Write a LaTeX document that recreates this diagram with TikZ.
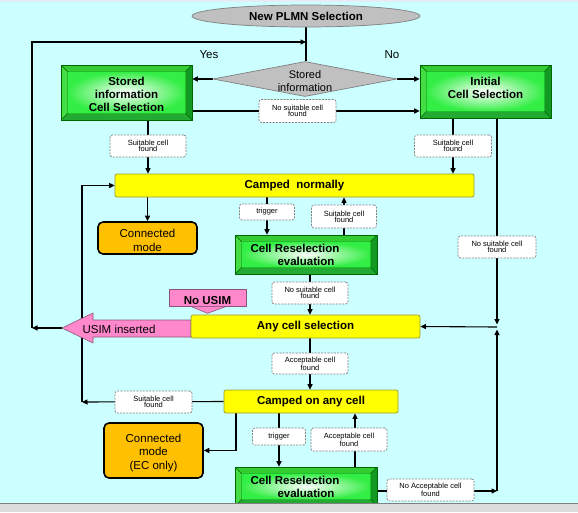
\documentclass[tikz,border=0pt]{standalone}
\usepackage{fontspec}
\setmainfont{Liberation Sans}
\usetikzlibrary{shapes.geometric,arrows.meta,calc}
\definecolor{bgc}{HTML}{CCFFFF}
\definecolor{topC}{HTML}{E6ECF6}
\definecolor{gTop}{HTML}{33CC33}
\definecolor{gLeft}{HTML}{44DD44}
\definecolor{gRight}{HTML}{119922}
\definecolor{gBot}{HTML}{22AA33}
\definecolor{gFace}{HTML}{33EE44}
\definecolor{gDark}{HTML}{006600}
\definecolor{yelC}{HTML}{FFFF00}
\definecolor{yelD}{HTML}{999933}
\definecolor{oraC}{HTML}{FFC000}
\definecolor{pinkC}{HTML}{FF88CC}
\definecolor{pinkD}{HTML}{885577}
\definecolor{grayC}{HTML}{C0C0C0}
\definecolor{grayD}{HTML}{808080}
\definecolor{lblD}{HTML}{808080}
\definecolor{bandC}{HTML}{DCDCDC}
\newcommand{\dropt}[2]{\raisebox{-#1}[\height][\depth]{\begin{tabular}{@{}c@{}}#2\end{tabular}}}
\pgfdeclarelayer{bgl}
\pgfdeclarelayer{lines}
\pgfsetlayers{bgl,lines,main}
\begin{document}
\begin{tikzpicture}[x=1pt,y=-1pt,
  ln/.style={line width=1.1pt},
  arr/.style={line width=1.1pt,-{Triangle[length=5.5pt,width=5pt]}},
  lbl/.style={draw=lblD, dash pattern=on 2pt off 1.2pt, fill=white, rounded corners=2.5pt,
    font=\fontsize{7.5}{6}\selectfont, align=center, inner sep=0pt, line width=0.7pt},
  ybox/.style={draw=yelD, line width=0.7pt, fill=yelC, rounded corners=2pt, inner sep=0pt,
    font=\bfseries\fontsize{11.5}{13}\selectfont},
  obox/.style={draw=black, line width=1.6pt, fill=oraC, rounded corners=5pt, inner sep=0pt,
    align=center, font=\fontsize{11.5}{13.5}\selectfont},
  txt/.style={inner sep=0pt, font=\fontsize{11.5}{13}\selectfont, align=center},
  gbox/.style={draw=gDark, line width=0.6pt, fill=gFace, align=center, inner sep=0pt,
    font=\bfseries\fontsize{11.5}{13}\selectfont,
    path picture={
      \path (path picture bounding box.north west) coordinate (pa)
            (path picture bounding box.north east) coordinate (pb)
            (path picture bounding box.south east) coordinate (pc)
            (path picture bounding box.south west) coordinate (pd);
      \path ([shift={(6.5pt,-6.5pt)}]pa) coordinate (qa)
            ([shift={(-6.5pt,-6.5pt)}]pb) coordinate (qb)
            ([shift={(-6.5pt,6.5pt)}]pc) coordinate (qc)
            ([shift={(6.5pt,6.5pt)}]pd) coordinate (qd);
      \fill[gTop] (pa)--(pb)--(qb)--(qa)--cycle;
      \fill[gRight] (pb)--(pc)--(qc)--(qb)--cycle;
      \fill[gBot] (pc)--(pd)--(qd)--(qc)--cycle;
      \fill[gLeft] (pd)--(pa)--(qa)--(qd)--cycle;
      \shade[inner color=white, outer color=gFace] (qa) rectangle (qc);
      \draw[gDark, line width=0.4pt] (pa)--(qa) (pb)--(qb) (pc)--(qc) (pd)--(qd) (qa) rectangle (qc);
    }},
]
\begin{pgfonlayer}{bgl}
  \fill[bgc] (0,0) rectangle (578,512);
  \fill[topC] (0,0) rectangle (578,2);
\end{pgfonlayer}
\useasboundingbox (0,0) rectangle (578,512);

% main nodes
\node[ellipse, draw=grayD, fill=grayC, line width=0.7pt, minimum width=228pt, minimum height=22pt,
  inner sep=0pt, font=\bfseries\fontsize{11.5}{13}\selectfont] (plmn) at (306,16) {New PLMN Selection};
\node[diamond, draw=grayD, fill=grayC, line width=0.7pt, minimum width=184pt, minimum height=35pt,
  inner sep=0pt] (dia) at (305,79) {};
\node[txt, font=\fontsize{11}{12.5}\selectfont] (diat) at (305,81) {Stored\\information};
\node[txt] (yes) at (209,55) {Yes};
\node[txt] (no) at (392,55) {No};

\node[gbox, minimum width=131pt, minimum height=55pt] (stored) at (126.5,92.5) {\dropt{3pt}{Stored\\information\\Cell Selection}};
\node[gbox, minimum width=131pt, minimum height=53pt] (initial) at (485.5,91.5) {\dropt{-2.5pt}{Initial\\Cell Selection}};
\node[ybox, minimum width=359pt, minimum height=23pt] (camped) at (294.5,185.5) {Camped\ \ normally};
\node[obox, minimum width=99pt, minimum height=32pt] (conn1) at (147.5,238) {\dropt{4pt}{Connected\\mode}};
\node[gbox, minimum width=142pt, minimum height=39pt] (resel1) at (306,254.5) {\dropt{2pt}{Cell Reselection\hspace*{22pt}\\evaluation}};

% pink shapes
\coordinate (usimtip) at (62,328);
\filldraw[fill=pinkC, draw=pinkD, line width=0.6pt]
  (191,320) -- (93,320) -- (93,313) -- (usimtip) -- (93,343) -- (93,337) -- (191,337) -- cycle;
\node[txt] (usimt) at (119,329) {USIM inserted};
\node[draw=pinkD, fill=pinkC, line width=0.6pt, minimum width=77pt, minimum height=17pt, inner sep=0pt,
  font=\bfseries\fontsize{11.5}{13}\selectfont] (nousim) at (207.5,297.5) {\raisebox{-3pt}[\height][\depth]{No USIM}};
\filldraw[fill=pinkC, draw=pinkD, line width=0.6pt]
  ([xshift=-17pt]nousim.south) -- ([xshift=19pt]nousim.south) -- ([yshift=-7pt]nousim.south) -- cycle;

\node[ybox, minimum width=229pt, minimum height=23pt] (anycell) at (305.5,326.5) {Any cell selection};
\node[ybox, minimum width=174pt, minimum height=23pt] (campany) at (311,401.5) {Camped on any cell};
\node[obox, minimum width=99pt, minimum height=55pt] (conn2) at (153.5,450.5) {\dropt{2.5pt}{Connected\\mode\\(EC only)}};
\node[gbox, minimum width=142pt, minimum height=39pt] (resel2) at (306,486.5) {\dropt{2pt}{Cell Reselection\hspace*{22pt}\\evaluation}};

% labels
\node[lbl, minimum width=77pt, minimum height=23pt] (L1) at (297.5,111) {No suitable cell\\found};
\node[lbl, minimum width=76pt, minimum height=22pt] (L2) at (148,146) {Suitable cell\\found};
\node[lbl, minimum width=77pt, minimum height=22pt] (L3) at (453,146) {Suitable cell\\found};
\node[lbl, minimum width=55pt, minimum height=16pt] (T1) at (267,212) {trigger};
\node[lbl, minimum width=65pt, minimum height=23pt] (L5) at (344,216.5) {Suitable cell\\found};
\node[lbl, minimum width=78pt, minimum height=22pt] (L6) at (497,247) {No suitable cell\\found};
\node[lbl, minimum width=76pt, minimum height=22pt] (L7) at (310,293) {No suitable cell\\found};
\node[lbl, minimum width=76pt, minimum height=21pt] (L8) at (310,363.5) {Acceptable cell\\found};
\node[lbl, minimum width=77pt, minimum height=22pt] (L9) at (153.5,402) {Suitable cell\\found};
\node[lbl, minimum width=53pt, minimum height=17pt] (T2) at (279,436.5) {trigger};
\node[lbl, minimum width=76pt, minimum height=23pt] (L10) at (349,439.5) {Acceptable cell\\found};
\node[lbl, minimum width=87pt, minimum height=22pt] (L11) at (430.5,490) {No Acceptable cell\\found};

% connectors
\coordinate (topL) at (32,42);
\coordinate (botL) at (32,328);
\coordinate (J) at (497,327);
\coordinate (K) at (497,491);
\coordinate (C1) at (82,402);
\coordinate (C2) at (82,185.5);
\coordinate (C3) at (236,450.5);
\coordinate (X10) at (355,440);
\begin{pgfonlayer}{lines}
  \draw[ln] (plmn.south) -- (plmn.south |- dia.north);
  \draw[arr] (usimtip) -- (botL);
  \draw[arr] (botL) -- (topL) -- (topL -| plmn.south);
  \draw[arr] (dia.west) -- (dia.west -| stored.east);
  \draw[arr] (dia.east) -- (dia.east -| initial.west);
  \draw[arr] (stored.east |- L1) -- (initial.west |- L1);
  \draw[arr] (stored.south -| L2) -- (camped.north -| L2);
  \draw[arr] (initial.south -| L3) -- (camped.north -| L3);
  \draw[arr] (initial.south -| J) -- ([yshift=2.5pt]J);
  \draw[arr] (J) -- (anycell.east);
  \draw[arr] (resel2.east |- K) -- (K);
  \draw[arr] (K) -- ([yshift=-2.5pt]J);
  \draw[arr] (camped.south -| conn1) -- (conn1.north);
  \draw[arr] (camped.south -| T1) -- (resel1.north -| T1);
  \draw[arr] (resel1.north -| L5) -- (camped.south -| L5);
  \draw[arr] (resel1.south -| L7) -- (anycell.north -| L7);
  \draw[arr] (campany.west) -- (C1);
  \draw[arr] (C1) -- (C2) -- (camped.west);
  \draw[arr] (anycell.south -| L8) -- (campany.north -| L8);
  \draw[arr] (campany.south -| C3) -- (C3) -- (conn2.east);
  \draw[arr] (campany.south -| T2) -- (resel2.north -| T2);
  \draw[arr] (resel2.north -| X10) -- (campany.south -| X10);
\end{pgfonlayer}

% bottom band
\fill[bandC] (0,503) rectangle (578,512);
\draw[grayD, line width=1pt] (0,503) -- (578,503);
\end{tikzpicture}
\end{document}
